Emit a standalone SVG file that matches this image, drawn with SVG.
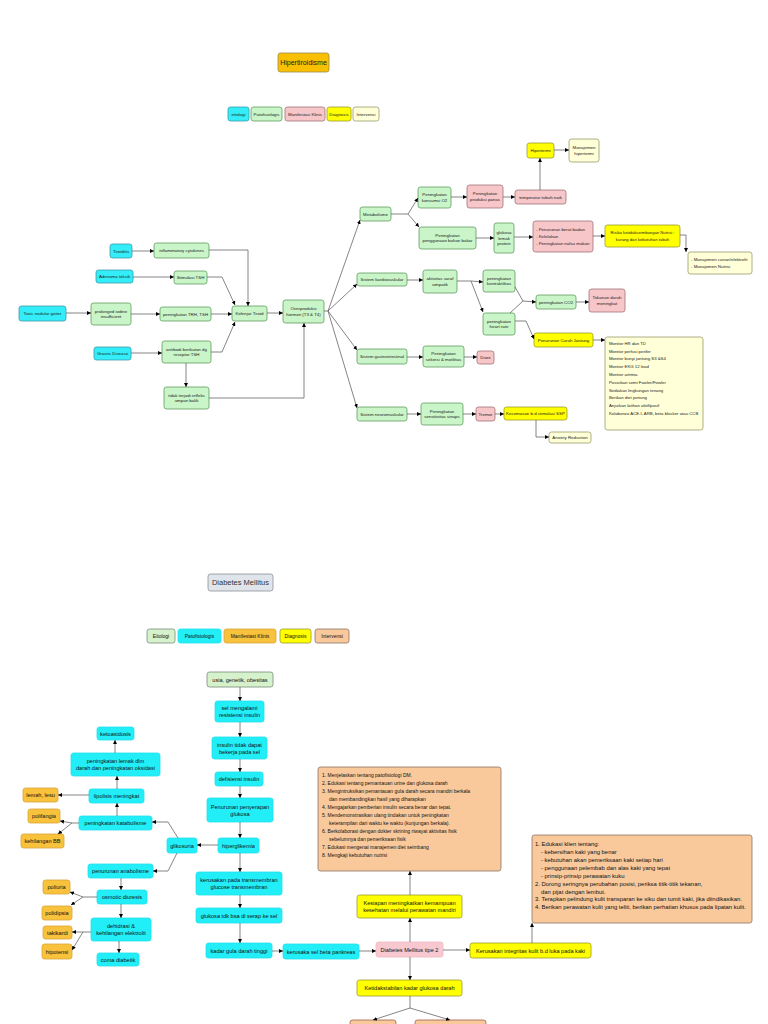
<svg xmlns="http://www.w3.org/2000/svg" width="768" height="1024" viewBox="0 0 768 1024">
<style>
text{font-family:"Liberation Sans",Arial,sans-serif;fill:#222;text-anchor:middle}
.t text{font-size:4.4px}
.b text{font-size:5.6px;fill:#111}
.l{text-anchor:start}
rect{rx:2.5;ry:2.5;stroke-width:0.8}
.cy{fill:#33eef8;stroke:#3a9aa8}
.gr{fill:#c9f5c9;stroke:#5f9a5f}
.pk{fill:#f7c6c9;stroke:#a07276}
.ye{fill:#ffff00;stroke:#9a9a30}
.cr{fill:#ffffd8;stroke:#9a9a70}
.or{fill:#f8c23c;stroke:#d9a53a}
.pe{fill:#f9c99c;stroke:#8a7462}
.cb{fill:#22eef8;stroke:#22e0ea}
.lg{fill:#d6f2cc;stroke:#7a8a78}
#conn path{fill:none;stroke:#666;stroke-width:0.8;marker-end:url(#a)}
</style>
<defs>
<marker id="a" viewBox="0 0 10 10" refX="10" refY="5" markerWidth="4" markerHeight="4" orient="auto" markerUnits="userSpaceOnUse"><path d="M0,0L10,5L0,10z" fill="#000"/></marker>
</defs>
<rect x="0" y="0" width="768" height="1024" rx="0" ry="0" style="fill:#fff;stroke:none"/>

<g class="t">
<g id="title1"><rect x="278" y="53" width="51" height="19" style="fill:#f8c000;stroke:#9a8850"/><text x="303.5" y="65" style="font-size:7px">Hipertiroidisme</text></g>
<g id="lg1"><rect class="cy" x="228" y="107" width="21" height="14"/><text x="238.5" y="115.5">etiologi</text></g>
<g id="lg2"><rect class="gr" x="251" y="107" width="31" height="14"/><text x="266.5" y="115.5">Patofisiologis</text></g>
<g id="lg3"><rect class="pk" x="285" y="107" width="40" height="14"/><text x="305" y="115.5">Manifestasi Klinis</text></g>
<g id="lg4"><rect class="ye" x="327" y="107" width="24" height="14"/><text x="339" y="115.5">Diagnosis</text></g>
<g id="lg5"><rect class="cr" x="353" y="107" width="26" height="14"/><text x="366" y="115.5">Intervensi</text></g>

<g id="tiroiditis"><rect class="cy" x="110" y="244" width="22" height="14"/><text x="121" y="252.5">Tiroiditis</text></g>
<g id="inflam"><rect class="gr" x="154" y="243" width="55" height="15"/><text x="181.5" y="252">inflammatory cytokines</text></g>
<g id="adenoma"><rect class="cy" x="96" y="270" width="37" height="13"/><text x="114.5" y="278">Adenoma toksik</text></g>
<g id="stimtsh"><rect class="gr" x="174" y="271" width="33" height="13"/><text x="190.5" y="279">Stimulasi TSH</text></g>
<g id="toxic"><rect class="cy" x="19" y="306" width="47" height="15"/><text x="42.5" y="315">Toxic nodular goiter</text></g>
<g id="prolonged"><rect class="gr" x="91" y="303" width="40" height="22"/><text x="111" y="312.75">prolonged iodine<tspan x="111" dy="5.5">insufficient</tspan></text></g>
<g id="trh"><rect class="gr" x="160" y="307" width="51" height="14"/><text x="185.5" y="315.5">peningkatan TRH, TSH</text></g>
<g id="graves"><rect class="cy" x="94" y="347" width="37" height="13"/><text x="112.5" y="355">Graves Disease</text></g>
<g id="antibodi"><rect class="gr" x="162" y="341" width="49" height="22"/><text x="186.5" y="350.75">antibodi berikatan dg<tspan x="186.5" dy="5.5">reseptor TSH</tspan></text></g>
<g id="refleks"><rect class="gr" x="164" y="387" width="45" height="22"/><text x="186.5" y="396.75">tidak terjadi refleks<tspan x="186.5" dy="5.5">umpan balik</tspan></text></g>
<g id="kelenjar"><rect class="gr" x="232" y="306" width="35" height="15"/><text x="249.5" y="315">Kelenjar Tiroid</text></g>
<g id="overprod"><rect class="gr" x="283" y="300" width="41" height="23"/><text x="303.5" y="310.25">Overproduksi<tspan x="303.5" dy="5.5">hormon (T3 &amp; T4)</tspan></text></g>
<g id="metabolisme"><rect class="gr" x="360" y="207" width="31" height="14"/><text x="375.5" y="215.5">Metabolisme</text></g>
<g id="konsumsi"><rect class="gr" x="418" y="187" width="33" height="21"/><text x="434.5" y="196.25">Peningkatan<tspan x="434.5" dy="5.5">konsumsi O2</tspan></text></g>
<g id="panas"><rect class="pk" x="467" y="185" width="36" height="23"/><text x="485" y="195.25">Peningkatan<tspan x="485" dy="5.5">produksi panas</tspan></text></g>
<g id="temperatur"><rect class="pk" x="515" y="190" width="51" height="14"/><text x="540.5" y="198.5">temperatur tubuh naik</text></g>
<g id="hipertermi"><rect class="ye" x="527" y="143" width="27" height="15"/><text x="540.5" y="152">Hipertermi</text></g>
<g id="manhiper"><rect class="cr" x="569" y="139" width="30" height="23"/><text x="584" y="149.25">Manajemen<tspan x="584" dy="5.5">hipertermi</tspan></text></g>
<g id="bahanbakar"><rect class="gr" x="419" y="227" width="57" height="22"/><text x="447.5" y="236.75">Peningkatan<tspan x="447.5" dy="5.5">penggunaan bahan bakar</tspan></text></g>
<g id="glukosa"><rect class="gr" x="494" y="223" width="20" height="30"/><text x="504" y="234">glukosa<tspan x="504" dy="5.5">lemak</tspan><tspan x="504" dy="5.5">protein</tspan></text></g>
<g id="penurunanbb"><rect class="pk" x="533" y="221" width="60" height="31"/><text class="l" x="536" y="230.5">- Penurunan berat badan<tspan x="536" dy="7">- Kelelahan</tspan><tspan x="536" dy="7">- Peningkatan nafsu makan</tspan></text></g>
<g id="risiko"><rect class="ye" x="605" y="225" width="75" height="22"/><text x="642.5" y="234" style="font-size:4.2px">Risiko ketidakseimbangan Nutrisi :<tspan x="642.5" dy="7">kurang dari kebutuhan tubuh</tspan></text></g>
<g id="mancairan"><rect class="cr" x="688" y="252" width="64" height="22"/><text class="l" x="691" y="260.8">- Manajemen cairan/elektrolit<tspan x="691" dy="7.2">- Manajemen Nutrisi</tspan></text></g>
<g id="kardio"><rect class="gr" x="357" y="273" width="50" height="13"/><text x="382" y="281">Sistem kardiovaskular</text></g>
<g id="simpatik"><rect class="gr" x="423" y="270" width="34" height="23"/><text x="440" y="280.25">aktivitas saraf<tspan x="440" dy="5.5">simpatik</tspan></text></g>
<g id="kontraktil"><rect class="gr" x="483" y="270" width="32" height="22"/><text x="499" y="279.75">peningkatan<tspan x="499" dy="5.5">kontraktilitas</tspan></text></g>
<g id="heartrate"><rect class="gr" x="483" y="313" width="32" height="22"/><text x="499" y="322.75">peningkatan<tspan x="499" dy="5.5">heart rate</tspan></text></g>
<g id="co2"><rect class="gr" x="536" y="295" width="40" height="14"/><text x="556" y="303.5">peningkatan CO2</text></g>
<g id="tekanan"><rect class="pk" x="589" y="289" width="36" height="23"/><text x="607" y="299.25">Tekanan darah<tspan x="607" dy="5.5">meningkat</tspan></text></g>
<g id="curah"><rect class="ye" x="534" y="333" width="59" height="14"/><text x="563.5" y="341.5">Penurunan Curah Jantung</text></g>
<g id="monitor"><rect class="cr" x="605" y="337" width="98" height="93"/><text class="l" x="609" y="344.8" style="font-size:4.3px">Monitor HR dan TD<tspan x="609" dy="7.8">Monitor perfusi perifer</tspan><tspan x="609" dy="7.8">Monitor bunyi jantung S3 &amp;S4</tspan><tspan x="609" dy="7.8">Monitor EKG 12 lead</tspan><tspan x="609" dy="7.8">Monitor aritmia</tspan><tspan x="609" dy="7.8">Posisikan semi Fowler/Fowler</tspan><tspan x="609" dy="7.8">Sediakan lingkungan tenang</tspan><tspan x="609" dy="7.8">Berikan diet jantung</tspan><tspan x="609" dy="7.8">Anjurkan latihan aktif/pasif</tspan><tspan x="609" dy="7.8">Kolaborasi ACE-I, ARB, beta blocker atau CCB</tspan></text></g>
<g id="gastro"><rect class="gr" x="357" y="349" width="50" height="15"/><text x="382" y="358">Sistem gastrointestinal</text></g>
<g id="sekresi"><rect class="gr" x="423" y="346" width="41" height="21"/><text x="443.5" y="355.25">Peningkatan<tspan x="443.5" dy="5.5">sekresi &amp; motilitas</tspan></text></g>
<g id="diare"><rect class="pk" x="477" y="351" width="17" height="13"/><text x="485.5" y="359">Diare</text></g>
<g id="neuro"><rect class="gr" x="357" y="407" width="50" height="14"/><text x="382" y="415.5">Sistem neuromuskular</text></g>
<g id="sinaps"><rect class="gr" x="421" y="403" width="42" height="22"/><text x="442" y="412.75">Peningkatan<tspan x="442" dy="5.5">sensitivitas sinaps</tspan></text></g>
<g id="tremor"><rect class="pk" x="476" y="407" width="19" height="14"/><text x="485.5" y="415.5">Tremor</text></g>
<g id="kecemasan"><rect class="ye" x="504" y="407" width="63" height="13"/><text x="535.5" y="415">Kecemasan b.d stimulasi SSP</text></g>
<g id="anxiety"><rect class="cr" x="549" y="432" width="42" height="11"/><text x="570" y="439">Anxiety Reduction</text></g>
</g>

<g class="b">
<g id="title2"><rect x="208" y="574" width="65" height="17" style="fill:#dfe5eb;stroke:#8a9098"/><text x="240.5" y="585" style="font-size:7.5px;fill:#333">Diabetes Mellitus</text></g>
<g id="dlg1"><rect class="lg" x="147" y="629" width="28" height="14"/><text x="161" y="638" style="font-size:5px">Etiologi</text></g>
<g id="dlg2"><rect class="cb" x="178" y="629" width="43" height="14"/><text x="199.5" y="638" style="font-size:5px">Patofisiologis</text></g>
<g id="dlg3"><rect class="or" x="224" y="629" width="52" height="14"/><text x="250" y="638" style="font-size:5px">Manifestasi Klinis</text></g>
<g id="dlg4"><rect class="ye" x="280" y="629" width="31" height="14"/><text x="295.5" y="638" style="font-size:5px">Diagnosis</text></g>
<g id="dlg5"><rect class="pe" x="315" y="629" width="34" height="14"/><text x="332" y="638" style="font-size:5px">Intervensi</text></g>

<g id="usia"><rect class="lg" x="207" y="672" width="66" height="15"/><text x="240" y="681.5">usia, genetik, obesitas</text></g>
<g id="resistensi"><rect class="cb" x="215" y="701" width="49" height="21"/><text x="239.5" y="710">sel mengalami<tspan x="239.5" dy="7">resistensi insulin</tspan></text></g>
<g id="tidakdapat"><rect class="cb" x="212" y="737" width="55" height="22"/><text x="239.5" y="746.5">insulin tidak dapat<tspan x="239.5" dy="7">bekerja pada sel</tspan></text></g>
<g id="defisiensi"><rect class="cb" x="215" y="772" width="48" height="14"/><text x="239" y="781">defisiensi insulin</text></g>
<g id="penyerapan"><rect class="cb" x="207" y="798" width="66" height="24"/><text x="240" y="808.5">Penurunan penyerapan<tspan x="240" dy="7">glukosa</tspan></text></g>
<g id="hiperglikemia"><rect class="cb" x="218" y="838" width="41" height="15"/><text x="238.5" y="847.5">hiperglikemia</text></g>
<g id="transmembran"><rect class="cb" x="196" y="872" width="86" height="23"/><text x="239" y="882">kerusakan pada transmembran<tspan x="239" dy="7">glucose transmembran</tspan></text></g>
<g id="tdkserap"><rect class="cb" x="196" y="908" width="86" height="15"/><text x="239" y="917.5">glukosa tdk bsa di serap ke sel</text></g>
<g id="kadargula"><rect class="cb" x="206" y="943" width="66" height="15"/><text x="239" y="952.5">kadar gula darah tinggi</text></g>
<g id="betapankreas"><rect class="cb" x="283" y="944" width="76" height="15"/><text x="321" y="953.5">kerusaka sel beta pankreas</text></g>
<g id="dmtipe2"><rect x="376" y="942" width="67" height="15" style="fill:#f8c8d0;stroke:#f0b8c0"/><text x="409.5" y="951.5">Diabetes Mellitus tipe 2</text></g>
<g id="kesiapan"><rect class="ye" x="357" y="895" width="105" height="23"/><text x="409.5" y="905">Kesiapan meningkatkan kemampuan<tspan x="409.5" dy="7">kesehatan melalui perawatan mandiri</tspan></text></g>
<g id="integritas"><rect class="ye" x="470" y="943" width="121" height="15"/><text x="530.5" y="952.5">Kerusakan integritas kulit b.d luka pada kaki</text></g>
<g id="ketidakstabilan"><rect class="ye" x="357" y="980" width="105" height="16"/><text x="409.5" y="990">Ketidakstabilan kadar glukosa darah</text></g>
<g id="interv1"><rect class="pe" x="318" y="767" width="183" height="104"/><text class="l" x="322" y="777" style="font-size:5px">1. Menjelaskan tentang patofisiologi DM.<tspan x="322" dy="8">2. Edukasi tentang pemantauan urine dan glukosa darah</tspan><tspan x="322" dy="8">3. Mengintruksikan pemantauan gula darah secara mandiri berkala</tspan><tspan x="329" dy="8">dan membandingkan hasil yang diharapkan</tspan><tspan x="322" dy="8">4. Mengajarkan pemberian insulin secara benar dan tepat.</tspan><tspan x="322" dy="8">5. Mendemonstrasikan ulang tindakan untuk peningkatan</tspan><tspan x="329" dy="8">keterampilan dari waktu ke waktu (kunjungan berkala).</tspan><tspan x="322" dy="8">6. Berkolaborasi dengan dokter skrining riwayat aktivitas fisik</tspan><tspan x="329" dy="8">sebelumnya dan pemeriksaan fisik</tspan><tspan x="322" dy="8">7. Edukasi mengenai manajemen diet seimbang</tspan><tspan x="322" dy="8">8. Mengkaji kebutuhan  nutrisi</tspan></text></g>
<g id="interv2"><rect class="pe" x="532" y="835" width="220" height="88"/><text class="l" x="535" y="845.7" style="font-size:5.9px">1. Edukasi klien tentang:<tspan x="541" dy="7.97">- kebersihan kaki yang benar</tspan><tspan x="541" dy="7.97">- kebutuhan akan pemeriksaan kaki setiap hari</tspan><tspan x="541" dy="7.97">- penggunaan pelembab dan alas kaki yang tepat</tspan><tspan x="541" dy="7.97">- prinsip-prinsip perawatan kuku</tspan><tspan x="535" dy="7.97">2. Dorong seringnya perubahan posisi, periksa titik-titik tekanan,</tspan><tspan x="541" dy="7.97">dan pijat dengan lembut.</tspan><tspan x="535" dy="7.97">3. Terapkan pelindung kulit transparan ke siku dan tumit kaki, jika diindikasikan.</tspan><tspan x="535" dy="7.97">4. Berikan perawatan kulit yang teliti, berikan perhatian khusus pada lipatan kulit.</tspan></text></g>
<g id="bottomL"><rect x="350" y="1020" width="46" height="12" style="fill:#f9c99c;stroke:#a0604a"/></g>
<g id="bottomR"><rect x="415" y="1020" width="71" height="12" style="fill:#f9c99c;stroke:#a0604a"/></g>

<g id="ketoasidosis"><rect class="cb" x="97" y="727" width="37" height="13"/><text x="115.5" y="735.5">ketoasidosis</text></g>
<g id="lemakdarah"><rect class="cb" x="71" y="753" width="89" height="23"/><text x="115.5" y="763">peningkatan lemak dlm<tspan x="115.5" dy="7">darah dan peningkatan oksidasi</tspan></text></g>
<g id="lipolisis"><rect class="cb" x="89" y="789" width="55" height="14"/><text x="116.5" y="798">lipolisis meningkat</text></g>
<g id="lemah"><rect class="or" x="23" y="788" width="35" height="14"/><text x="40.5" y="797">lemah, lesu</text></g>
<g id="polifangia"><rect class="or" x="28" y="809" width="32" height="14"/><text x="44" y="818">polifangia</text></g>
<g id="katabolisme"><rect class="cb" x="79" y="816" width="73" height="14"/><text x="115.5" y="825">peningkatan katabolisme</text></g>
<g id="kehilanganbb"><rect class="or" x="21" y="834" width="43" height="14"/><text x="42.5" y="843">kehilangan BB</text></g>
<g id="glikosuria"><rect class="cb" x="167" y="838" width="30" height="15"/><text x="182" y="847.5">glikosuria</text></g>
<g id="anabolisme"><rect class="cb" x="88" y="864" width="65" height="14"/><text x="120.5" y="873">penurunan anabolisme</text></g>
<g id="poliuria"><rect class="or" x="43" y="880" width="27" height="14"/><text x="56.5" y="889">poliuria</text></g>
<g id="osmotic"><rect class="cb" x="97" y="890" width="50" height="14"/><text x="122" y="899">osmotic diuresis</text></g>
<g id="polidipsia"><rect class="or" x="42" y="906" width="30" height="14"/><text x="57" y="915">polidipsia</text></g>
<g id="dehidrasi"><rect class="cb" x="91" y="918" width="60" height="23"/><text x="121" y="928">dehidrasi &amp;<tspan x="121" dy="7">kehilangan elektrolit</tspan></text></g>
<g id="takikardi"><rect class="or" x="43" y="926" width="29" height="13"/><text x="57.5" y="934.5">takikardi</text></g>
<g id="hipotensi"><rect class="or" x="42" y="944" width="30" height="15"/><text x="57" y="953.5">hipotensi</text></g>
<g id="coma"><rect class="cb" x="97" y="953" width="42" height="13"/><text x="118" y="961.5">coma diabetik</text></g>
</g>

<g id="conn">
<path d="M132,251H154"/>
<path d="M133,277H174"/>
<path d="M66,313H91"/>
<path d="M131,314H160"/>
<path d="M131,353H162"/>
<path d="M186,363V387"/>
<path d="M209,250H248V306"/>
<path d="M207,277H222L235,305"/>
<path d="M211,314H232"/>
<path d="M211,352H222L235,322"/>
<path d="M267,313H283"/>
<path d="M209,398H304V323"/>
<path d="M324,311H328L360,220"/>
<path d="M328,311L357,284"/>
<path d="M328,311L357,350"/>
<path d="M328,311L357,408"/>
<path d="M391,214H408L418,198"/>
<path d="M408,214L419,227"/>
<path d="M451,197H467"/>
<path d="M503,197H515"/>
<path d="M540,190V158"/>
<path d="M554,150H569"/>
<path d="M476,238H494"/>
<path d="M514,237H533"/>
<path d="M593,236H605"/>
<path d="M680,235H686V252"/>
<path d="M407,280H423"/>
<path d="M457,281H471L483,282"/>
<path d="M471,281L483,312"/>
<path d="M515,287L523,301L536,302"/>
<path d="M510,313L523,301" style="marker-end:none"/>
<path d="M515,321H526L534,339"/>
<path d="M576,302H589"/>
<path d="M593,340H605"/>
<path d="M407,357H423"/>
<path d="M464,357H477"/>
<path d="M407,414H421"/>
<path d="M463,414H476"/>
<path d="M495,414H504"/>
<path d="M536,420V437H549"/>

<path d="M240,687V701"/>
<path d="M240,722V737"/>
<path d="M240,759V772"/>
<path d="M240,786V798"/>
<path d="M240,822V838"/>
<path d="M240,853V872"/>
<path d="M240,895V908"/>
<path d="M240,923V943"/>
<path d="M218,845H197"/>
<path d="M272,951H283"/>
<path d="M359,951H376"/>
<path d="M410,942V918"/>
<path d="M410,895V871"/>
<path d="M443,950H470"/>
<path d="M410,957V980"/>
<path d="M410,996V1008L373,1020"/>
<path d="M410,1008L450,1020"/>
<path d="M532,943V923"/>
<path d="M178,838L168,822H152"/>
<path d="M177,853L168,871H153"/>
<path d="M117,816V803"/>
<path d="M117,789V776"/>
<path d="M115,753V740"/>
<path d="M89,795H58"/>
<path d="M79,823H72L60,821"/>
<path d="M72,823L58,834"/>
<path d="M121,878V890"/>
<path d="M97,897H83L70,892"/>
<path d="M83,897L71,905"/>
<path d="M121,904V918"/>
<path d="M91,932H83L72,932"/>
<path d="M83,932L72,950"/>
<path d="M119,941V953"/>
</g>
</svg>
